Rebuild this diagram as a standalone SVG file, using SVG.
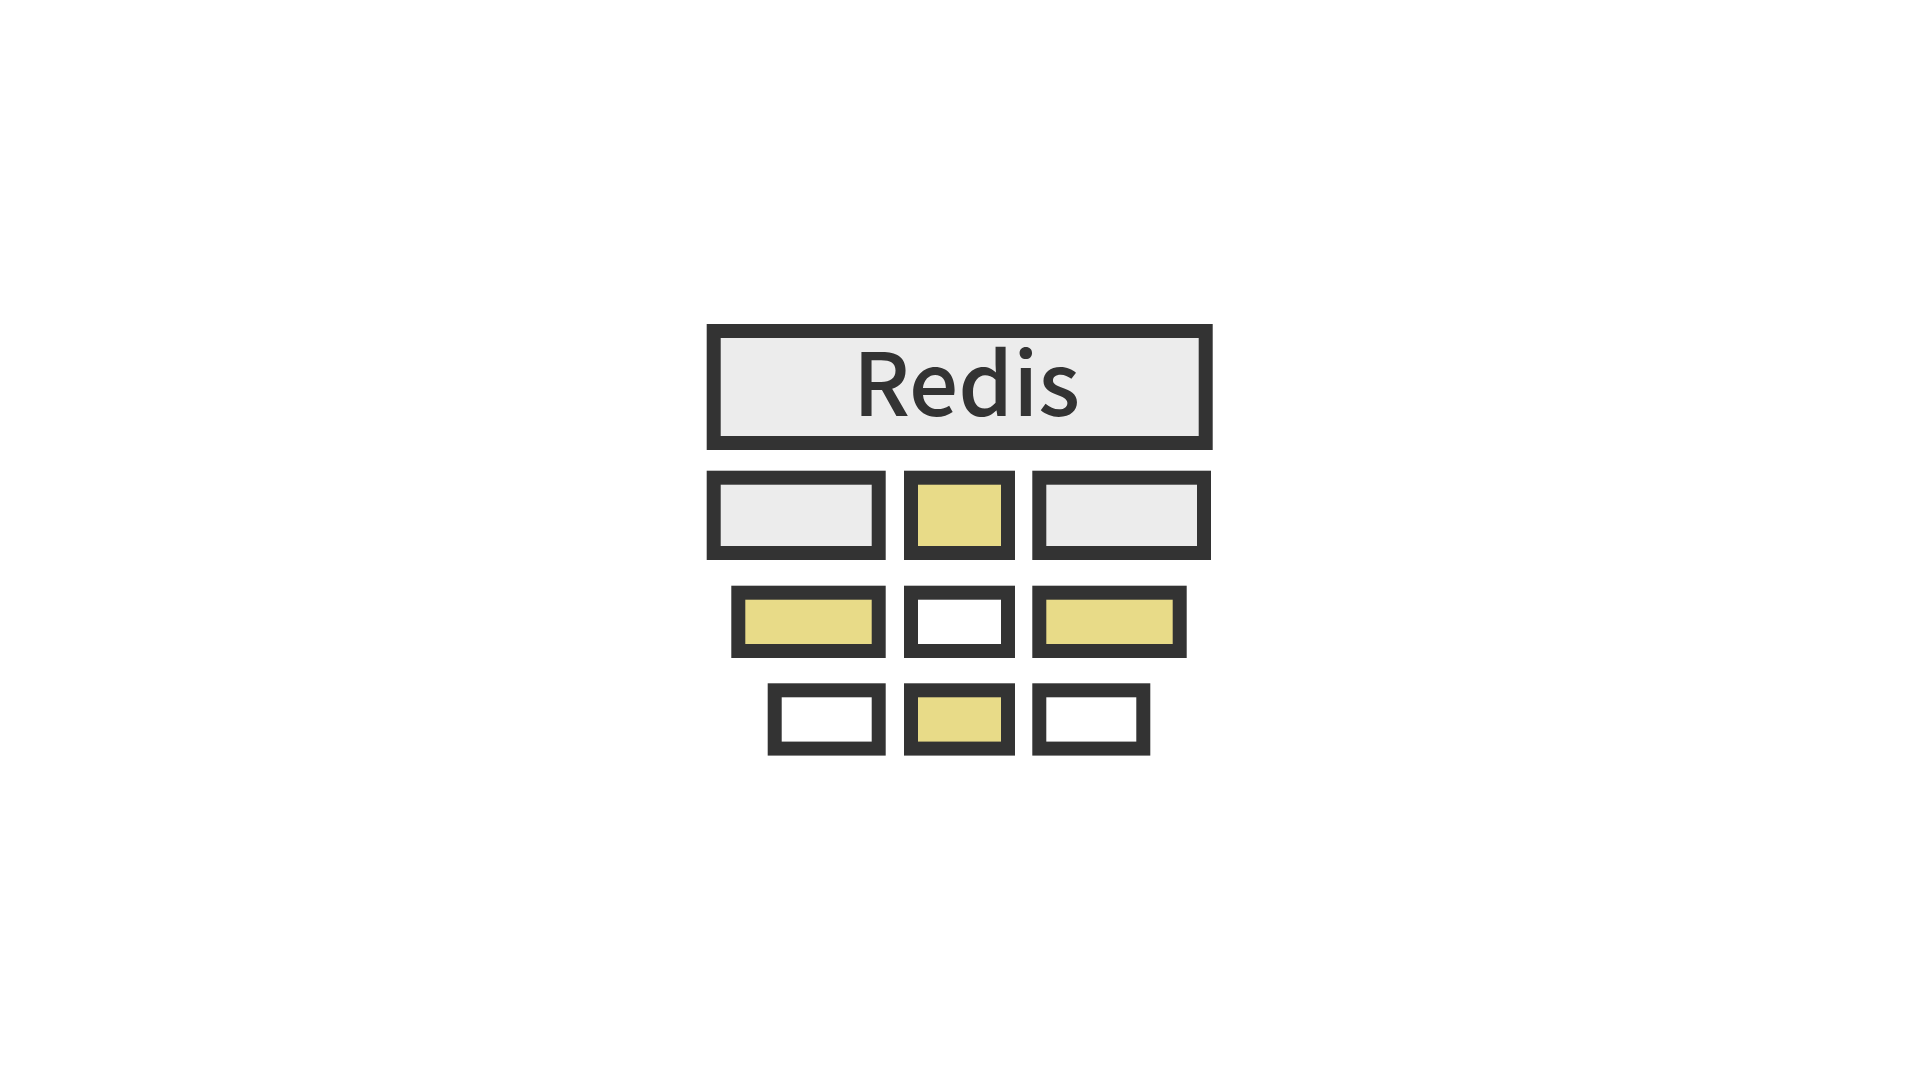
<svg xmlns="http://www.w3.org/2000/svg" width="1920" height="1080" viewBox="0 0 1920 1080">
<style>
.b{stroke:#333333;stroke-width:14}
.g{fill:#ececec}
.y{fill:#e8db88}
.w{fill:#ffffff}
.t{font-family:"Noto Sans CJK SC","Noto Sans",sans-serif;font-size:87px;font-weight:500;fill:#333333;text-anchor:middle}
</style>
<rect width="1920" height="1080" fill="#ffffff"/>
<g id="redis">
<rect class="b g" x="713.7" y="331" width="492" height="112"/>
<text class="t" x="966.5" y="416">Redis</text>
</g>
<g id="r1a"><rect class="b g" x="713.7" y="477.7" width="165" height="75.3"/></g>
<g id="r1b"><rect class="b y" x="911" y="477.7" width="97" height="75.3"/></g>
<g id="r1c"><rect class="b g" x="1039.3" y="477.7" width="164.7" height="75.3"/></g>
<g id="r2a"><rect class="b y" x="738.3" y="592.7" width="140.4" height="58.3"/></g>
<g id="r2b"><rect class="b w" x="911" y="592.7" width="97" height="58.3"/></g>
<g id="r2c"><rect class="b y" x="1039.3" y="592.7" width="140.4" height="58.3"/></g>
<g id="r3a"><rect class="b w" x="774.7" y="690.3" width="104" height="58.3"/></g>
<g id="r3b"><rect class="b y" x="911" y="690.3" width="97" height="58.3"/></g>
<g id="r3c"><rect class="b w" x="1039.3" y="690.3" width="104" height="58.3"/></g>
<g id="connectors"></g>
</svg>
